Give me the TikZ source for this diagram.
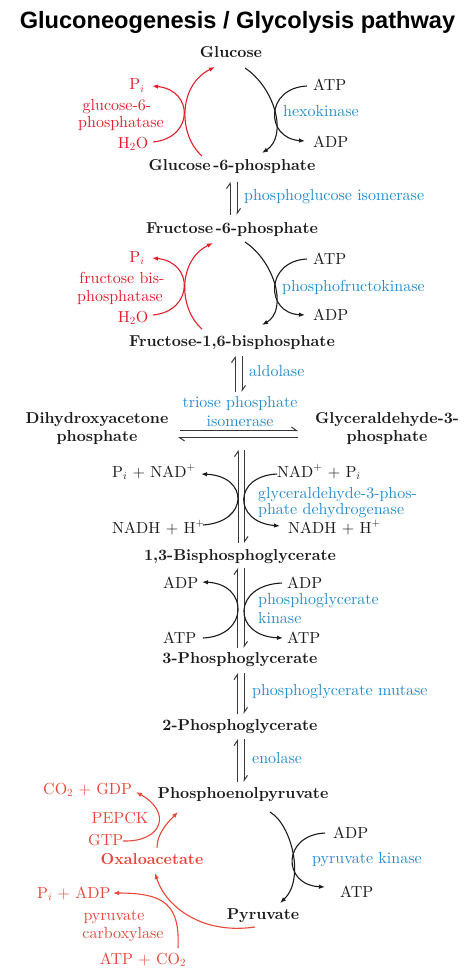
\documentclass[tikz,border=0pt]{standalone}
\usepackage{fontspec}
\setmainfont{lmroman10-regular.otf}[BoldFont=lmroman10-bold.otf,ItalicFont=lmroman10-italic.otf]
\newfontfamily\titlefont{Liberation Sans}
\usetikzlibrary{arrows.meta}
\definecolor{redA}{RGB}{226,30,44}
\definecolor{redB}{RGB}{232,72,58}
\definecolor{enzblue}{RGB}{38,140,204}
\definecolor{ink}{RGB}{28,28,28}
\definecolor{lineg}{RGB}{55,55,55}
\newcommand{\twoline}[2]{\begin{tabular}[t]{@{}c@{}}#1\\#2\end{tabular}}
\begin{document}
\begin{tikzpicture}[x=1pt,y=-1pt,
  cmpd/.style={font=\bfseries\fontsize{15.8}{18}\selectfont, text=ink, anchor=base, inner sep=0pt},
  lab/.style={font=\fontsize{16}{18}\selectfont, text=ink, inner sep=0pt, anchor=base},
  labw/.style={lab, anchor=base west},
  enz/.style={labw, text=enzblue},
  rxn/.style={draw=ink, line width=1.1pt, -{Latex[length=6pt,width=4.5pt]}},
  rxnA/.style={rxn, draw=redA},
  rxnB/.style={rxn, draw=redB},
  eq/.style={draw=lineg, line width=1pt, -{Straight Barb[harpoon,length=5pt,width=7pt]}}]
\fill[white] (0,0) rectangle (474,979);
\useasboundingbox (0,0) rectangle (474,979);

% title
\node[font=\titlefont\bfseries\fontsize{23.6}{28}\selectfont, anchor=base, inner sep=0pt] (title) at (237.5,28.3) {Gluconeogenesis / Glycolysis pathway};

% compounds
\node[cmpd] (glc)  at (231,58)  {Glucose};
\node[cmpd] (g6p)  at (232,170) {Glucose\,-6-phosphate};
\node[cmpd] (f6p)  at (232,233) {Fructose\,-6-phosphate};
\node[cmpd] (fbp)  at (232,346) {Fructose-1,6-bisphosphate};
\node[cmpd] (dhap) at (97,423)  {\twoline{Dihydroxyacetone}{phosphate}};
\node[cmpd] (gap)  at (387,423) {\twoline{Glyceraldehyde-3-}{phosphate}};
\node[cmpd] (bpg)  at (240,560) {1,3-Bisphosphoglycerate};
\node[cmpd] (pg3)  at (240,663) {3-Phosphoglycerate};
\node[cmpd] (pg2)  at (240,730) {2-Phosphoglycerate};
\node[cmpd] (pep)  at (243,798) {Phosphoenolpyruvate};
\node[cmpd] (pyr)  at (263,919) {Pyruvate};
\node[cmpd, text=redB] (oaa) at (152,864) {Oxaloacetate};

% ---- hexokinase / glucose-6-phosphatase
\node[lab, text=redA] (pi1) at (137,90) {P$_i$};
\node[lab, text=redA] (g6pase1) at (117,111) {glucose-6-};
\node[lab, text=redA] (g6pase2) at (121,128) {phosphatase};
\node[lab, text=redA] (h2o1) at (133,148) {H$_2$O};
\node[labw] (atp1) at (313,91) {ATP};
\node[enz]  (hk)   at (283,117) {hexokinase};
\node[labw] (adp1) at (313,147) {ADP};
\coordinate (hkS) at (245,68);  \coordinate (hkE) at (262,153);
\coordinate (hkA) at (307,86);  \coordinate (hkB) at (305,141);
\draw[rxn] (hkS) .. controls (275,88) and (288,136) .. (hkE);
\draw[rxn] (hkA) .. controls (265,88) and (265,138) .. (hkB);
\coordinate (gpS) at (202,156); \coordinate (gpE) at (215,67);
\coordinate (gpA) at (153,142); \coordinate (gpB) at (152,86);
\draw[rxnA] (gpS) .. controls (178,135) and (178,85) .. (gpE);
\draw[rxnA] (gpA) .. controls (194,138) and (194,90) .. (gpB);

% ---- phosphoglucose isomerase
\coordinate (e1a) at (230,215); \coordinate (e1b) at (230,182);
\coordinate (e1c) at (237,182); \coordinate (e1d) at (237,215);
\draw[eq] (e1a) -- (e1b);
\draw[eq] (e1c) -- (e1d);
\node[enz] (pgi) at (244,200) {phosphoglucose isomerase};

% ---- PFK / FBPase
\node[lab, text=redA] (pi2) at (137,262) {P$_i$};
\node[lab, text=redA] (fbpase1) at (122,283) {fructose bis-};
\node[lab, text=redA] (fbpase2) at (120,301) {phosphatase};
\node[lab, text=redA] (h2o2) at (133,322) {H$_2$O};
\node[labw] (atp2) at (313,264) {ATP};
\node[enz]  (pfk)  at (282,291) {phosphofructokinase};
\node[labw] (adp2) at (313,320) {ADP};
\coordinate (pfS) at (245,242); \coordinate (pfE) at (262,325);
\coordinate (pfA) at (307,259); \coordinate (pfB) at (305,315);
\draw[rxn] (pfS) .. controls (275,262) and (288,310) .. (pfE);
\draw[rxn] (pfA) .. controls (265,261) and (265,313) .. (pfB);
\coordinate (fpS) at (202,329); \coordinate (fpE) at (213,243);
\coordinate (fpA) at (153,315); \coordinate (fpB) at (152,258);
\draw[rxnA] (fpS) .. controls (178,308) and (178,260) .. (fpE);
\draw[rxnA] (fpA) .. controls (194,311) and (194,262) .. (fpB);

% ---- aldolase
\coordinate (e2a) at (235,392); \coordinate (e2b) at (235,356);
\coordinate (e2c) at (242,356); \coordinate (e2d) at (242,392);
\draw[eq] (e2a) -- (e2b);
\draw[eq] (e2c) -- (e2d);
\node[enz] (ald) at (249,376) {aldolase};

% ---- triose phosphate isomerase
\node[lab, text=enzblue] (tpi1) at (240,407) {triose phosphate};
\node[lab, text=enzblue] (tpi2) at (240,426) {isomerase};
\coordinate (h1a) at (180,430.5); \coordinate (h1b) at (298,430.5);
\coordinate (h2a) at (298,437.5); \coordinate (h2b) at (178,437.5);
\draw[eq] (h1a) -- (h1b);
\draw[eq] (h2a) -- (h2b);

% ---- GAPDH
\coordinate (e3a) at (238,543); \coordinate (e3b) at (238,450);
\coordinate (e3c) at (244.5,450); \coordinate (e3d) at (244.5,543);
\draw[eq] (e3a) -- (e3b);
\draw[eq] (e3c) -- (e3d);
\node[labw] (pinad) at (112,477) {P$_i$ + NAD$^+$};
\node[labw] (nadh1) at (112,533) {NADH + H$^+$};
\node[labw] (nadpi) at (277,477) {NAD$^+$ + P$_i$};
\node[enz] (gapdh1) at (258,498) {glyceraldehyde-3-phos-};
\node[enz] (gapdh2) at (258,514) {phate dehydrogenase};
\node[labw] (nadh2) at (288,533) {NADH + H$^+$};
\coordinate (gdA) at (203,525); \coordinate (gdB) at (201,474);
\coordinate (gdC) at (277,474); \coordinate (gdD) at (280,526);
\draw[rxn] (gdA) .. controls (249,522) and (249,476) .. (gdB);
\draw[rxn] (gdC) .. controls (233,476) and (233,522) .. (gdD);

% ---- phosphoglycerate kinase
\coordinate (e4a) at (237.5,648); \coordinate (e4b) at (237.5,568);
\coordinate (e4c) at (244,568); \coordinate (e4d) at (244,648);
\draw[eq] (e4a) -- (e4b);
\draw[eq] (e4c) -- (e4d);
\node[labw] (adp3) at (163,588) {ADP};
\node[labw] (atp3) at (163,643) {ATP};
\node[labw] (adp4) at (287,588) {ADP};
\node[enz] (pgk1) at (258,604) {phosphoglycerate};
\node[enz] (pgk2) at (258,623) {kinase};
\node[labw] (atp4) at (287,643) {ATP};
\coordinate (pkA) at (203,638); \coordinate (pkB) at (202,582);
\coordinate (pkC) at (282,583); \coordinate (pkD) at (283,638);
\draw[rxn] (pkA) .. controls (249,636) and (249,584) .. (pkB);
\draw[rxn] (pkC) .. controls (232,585) and (232,636) .. (pkD);

% ---- mutase
\coordinate (e5a) at (237.5,714); \coordinate (e5b) at (237.5,673);
\coordinate (e5c) at (244,673); \coordinate (e5d) at (244,714);
\draw[eq] (e5a) -- (e5b);
\draw[eq] (e5c) -- (e5d);
\node[enz] (pgm) at (252,695) {phosphoglycerate mutase};

% ---- enolase
\coordinate (e6a) at (237.5,782); \coordinate (e6b) at (237.5,739);
\coordinate (e6c) at (244,739); \coordinate (e6d) at (244,782);
\draw[eq] (e6a) -- (e6b);
\draw[eq] (e6c) -- (e6d);
\node[enz] (eno) at (252,763) {enolase};

% ---- pyruvate kinase
\node[labw] (adp5) at (333,838) {ADP};
\node[enz] (pk) at (312,863) {pyruvate kinase};
\node[labw] (atp5) at (340,897) {ATP};
\coordinate (pyS) at (270,812); \coordinate (pyE) at (280,903);
\coordinate (pyA) at (325,833); \coordinate (pyB) at (325,887);
\draw[rxn] (pyS) .. controls (292,825) and (305,880) .. (pyE);
\draw[rxn] (pyA) .. controls (282,835) and (282,885) .. (pyB);

% ---- PEPCK
\node[labw, text=redB] (co2gdp) at (43,794) {CO$_2$ + GDP};
\node[lab, text=redB] (pepck) at (120,823) {PEPCK};
\node[labw, text=redB] (gtp) at (88,845) {GTP};
\coordinate (ckS) at (157,848); \coordinate (ckE) at (178,812);
\coordinate (ckA) at (123,841); \coordinate (ckB) at (136,792);
\draw[rxnB] (ckS) .. controls (157,835) and (165,825) .. (ckE);
\draw[rxnB] (ckA) .. controls (163,842) and (172,812) .. (ckB);

% ---- pyruvate carboxylase
\node[labw, text=redB] (piadp) at (37,898) {P$_i$ + ADP};
\node[lab, text=redB] (pc1) at (114,920) {pyruvate};
\node[lab, text=redB] (pc2) at (123,938) {carboxylase};
\node[lab, text=redB] (atpco2) at (143,964) {ATP + CO$_2$};
\coordinate (pcS) at (255,927); \coordinate (pcE) at (155,873);
\coordinate (pcA) at (178,948); \coordinate (pcB) at (113,893);
\draw[rxnB] (pcS) .. controls (200,935) and (165,905) .. (pcE);
\draw[rxnB] (pcA) .. controls (180,905) and (165,893) .. (pcB);
\end{tikzpicture}
\end{document}
